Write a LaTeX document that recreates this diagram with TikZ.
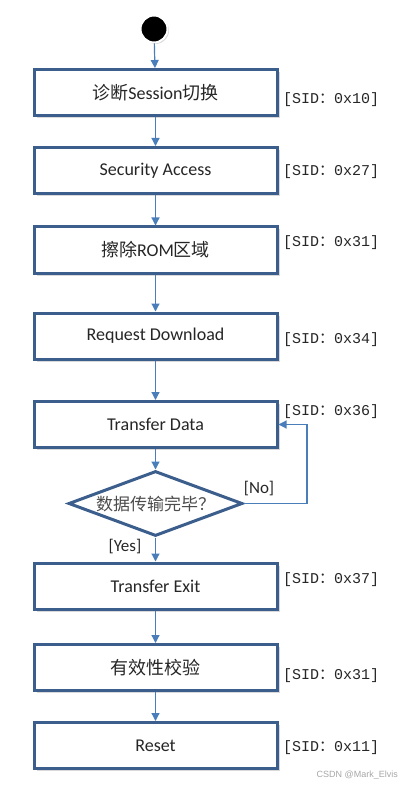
\documentclass[tikz,border=0pt]{standalone}
\usepackage{fontspec}
\usepackage{xcolor}
\usetikzlibrary{shapes.geometric, arrows.meta, shadows}
\setmainfont{Carlito}
\newfontfamily\cjk{Noto Sans CJK SC}
\newfontfamily\sidfont{Liberation Mono}
\newfontfamily\markfont{Liberation Sans}
\definecolor{framecolor}{RGB}{60,94,140}
\definecolor{flowcolor}{RGB}{74,126,187}
\newcommand{\sidtag}[1]{{\sidfont[SID{\cjk ：}#1]}}

\begin{document}
\begin{tikzpicture}[
    x=1pt, y=-1pt,
    box/.style={draw=framecolor, line width=3pt, fill=white, minimum width=243pt, minimum height=46pt,
        inner sep=0pt, font=\fontsize{18}{20}\selectfont, text=black!85,
        drop shadow={opacity=0.3, shadow xshift=2.5pt, shadow yshift=-2.5pt}},
    decision/.style={diamond, aspect=2.68, draw=framecolor, line width=3pt, fill=white, inner sep=0pt,
        minimum width=174pt, minimum height=65pt, font=\cjk\fontsize{17}{19}\selectfont, text=black!70},
    sid/.style={anchor=west, inner sep=0pt, font=\fontsize{15}{17}\selectfont, text=black!85},
    flow/.style={draw=flowcolor, line width=1.2pt, -{Triangle[length=8pt, width=8pt]}},
    guard/.style={inner sep=0pt, font=\fontsize{17}{19}\selectfont, text=black!85}
]
    \useasboundingbox (0,0) rectangle (402,786);

    % Start point
    \node[circle, fill=black, draw=white, line width=2pt, minimum size=27pt,
        drop shadow={opacity=0.3, shadow xshift=1.5pt, shadow yshift=-1.5pt}] (init) at (154,29) {};

    % Steps
    \node[box] (session) at (155.5,92.5) {{\cjk 诊断}Session{\cjk 切换}};
    \node[box] (security) at (155.5,170.5) {Security Access};
    \node[box] (erase) at (155.5,250) {{\cjk 擦除}ROM{\cjk 区域}};
    \node[box] (reqdl) at (155.5,336) {Request Download};
    \node[box] (xfer) at (155.5,424.5) {Transfer Data};
    \node[decision] (done) at (155.5,503.5) {数据传输完毕？};
    \node[box] (xexit) at (155.5,586) {Transfer Exit};
    \node[box] (verify) at (155.5,667.5) {{\cjk 有效性校验}};
    \node[box] (reset) at (155.5,745.5) {Reset};

    % Service IDs
    \node[sid] (sid1) at (283,100) {\sidtag{0x10}};
    \node[sid] (sid2) at (283,172) {\sidtag{0x27}};
    \node[sid] (sid3) at (283,243) {\sidtag{0x31}};
    \node[sid] (sid4) at (283,340) {\sidtag{0x34}};
    \node[sid] (sid5) at (283,412) {\sidtag{0x36}};
    \node[sid] (sid6) at (283,580) {\sidtag{0x37}};
    \node[sid] (sid7) at (283,676) {\sidtag{0x31}};
    \node[sid] (sid8) at (283,748) {\sidtag{0x11}};

    % Flows
    \draw[flow] (init) -- (session);
    \draw[flow] (session) -- (security);
    \draw[flow] (security) -- (erase);
    \draw[flow] (erase) -- (reqdl);
    \draw[flow] (reqdl) -- (xfer);
    \draw[flow] (xfer) -- (done);
    \draw[flow] (done) -- (xexit);
    \draw[flow] (xexit) -- (verify);
    \draw[flow] (verify) -- (reset);
    \coordinate (loop) at (307,424.5);
    \draw[flow] (done.east) -| (loop) -- (xfer.east);

    % Guards
    \node[guard] (no) at (259,489) {[No]};
    \node[guard] (yes) at (125,547) {[Yes]};

    % Watermark
    \node[anchor=east, inner sep=0pt, font=\markfont\fontsize{9}{10}\selectfont, text=black!35] (mark) at (398,775) {CSDN @Mark\_Elvis};
\end{tikzpicture}
\end{document}
